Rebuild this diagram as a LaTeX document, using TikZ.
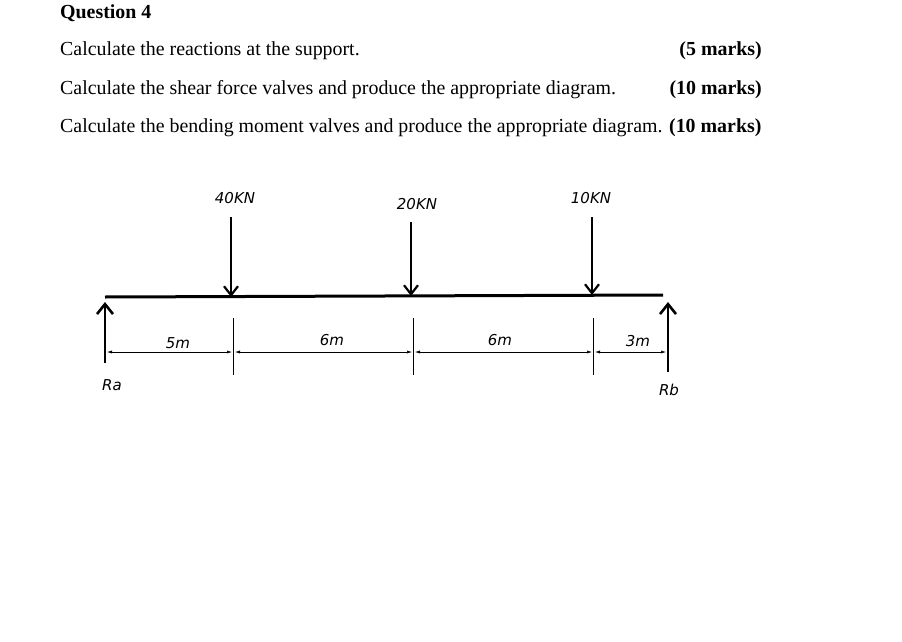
\documentclass[tikz,border=0pt]{standalone}
\usepackage{fontspec}
\setmainfont{Liberation Serif}
\newfontfamily\dv{DejaVu Sans}
\usetikzlibrary{arrows.meta}
\begin{document}
\begin{tikzpicture}[x=1pt,y=-1pt,
  txt/.style={anchor=base west,inner sep=0,font=\fontsize{19.9}{22}\selectfont},
  mk/.style={anchor=base east,inner sep=0,font=\fontsize{19.9}{22}\selectfont\bfseries},
  lbl/.style={inner sep=0,font=\dv\itshape\fontsize{15}{17}\selectfont},
  load/.style={line width=2pt,-{Straight Barb[length=9pt,width=14pt,line width=2.2pt]}},
  react/.style={line width=2.6pt,-{Straight Barb[length=10pt,width=16pt,line width=2.6pt]}},
  dim/.style={line width=0.5pt,{Latex[length=5pt,width=3pt]}-{Latex[length=5pt,width=3pt]}},
  tick/.style={line width=0.6pt}]
\useasboundingbox (0,0) rectangle (902,642);
\node[txt,font=\fontsize{19.9}{22}\selectfont\bfseries] (q) at (60,19) {Question 4};
\node[txt] (l1) at (60,56) {Calculate the reactions at the support.};
\node[mk] (m1) at (762,56) {(5 marks)};
\node[txt] (l2) at (60,94) {Calculate the shear force valves and produce the appropriate diagram.};
\node[mk] (m2) at (762,94) {(10 marks)};
\node[txt] (l3) at (60,132) {Calculate the bending moment valves and produce the appropriate diagram. \textbf{(10 marks)}};
% beam
\coordinate (bl) at (105,297); \coordinate (br) at (663,295);
\draw[line width=3pt] (bl) -- (br);
% loads
\node[lbl] (f1) at (235,198) {40KN};
\node[lbl] (f2) at (417,204) {20KN};
\node[lbl] (f3) at (591,198) {10KN};
\coordinate (a1) at (231,217); \coordinate (b1) at (231,297);
\coordinate (a2) at (411,222); \coordinate (b2) at (411,296);
\coordinate (a3) at (592,217); \coordinate (b3) at (592,295);
\draw[load] (a1) -- (b1);
\draw[load] (a2) -- (b2);
\draw[load] (a3) -- (b3);
% reactions
\coordinate (ra0) at (105,363); \coordinate (ra1) at (105,302);
\coordinate (rb0) at (668,372); \coordinate (rb1) at (668,302);
\draw[react] (ra0) -- (ra1);
\draw[react] (rb0) -- (rb1);
\node[lbl] (ra) at (112,385) {Ra};
\node[lbl] (rb) at (669,390) {Rb};
% ticks
\foreach \x/\n in {233/t1,413/t2,593/t3}{
  \coordinate (\n a) at (\x,318); \coordinate (\n b) at (\x,375);
  \draw[tick] (\n a) -- (\n b);}
% dimensions
\coordinate (d0) at (107,352); \coordinate (d1l) at (232,352);
\coordinate (d1r) at (235,352); \coordinate (d2l) at (412,352);
\coordinate (d2r) at (415,352); \coordinate (d3l) at (592,352);
\coordinate (d3r) at (595,352); \coordinate (d4) at (666,352);
\draw[dim] (d0) -- (d1l);
\draw[dim] (d1r) -- (d2l);
\draw[dim] (d2r) -- (d3l);
\draw[dim] (d3r) -- (d4);
\node[lbl] (s1) at (178,343) {5m};
\node[lbl] (s2) at (332,340) {6m};
\node[lbl] (s3) at (500,340) {6m};
\node[lbl] (s4) at (638,341) {3m};
\end{tikzpicture}
\end{document}
